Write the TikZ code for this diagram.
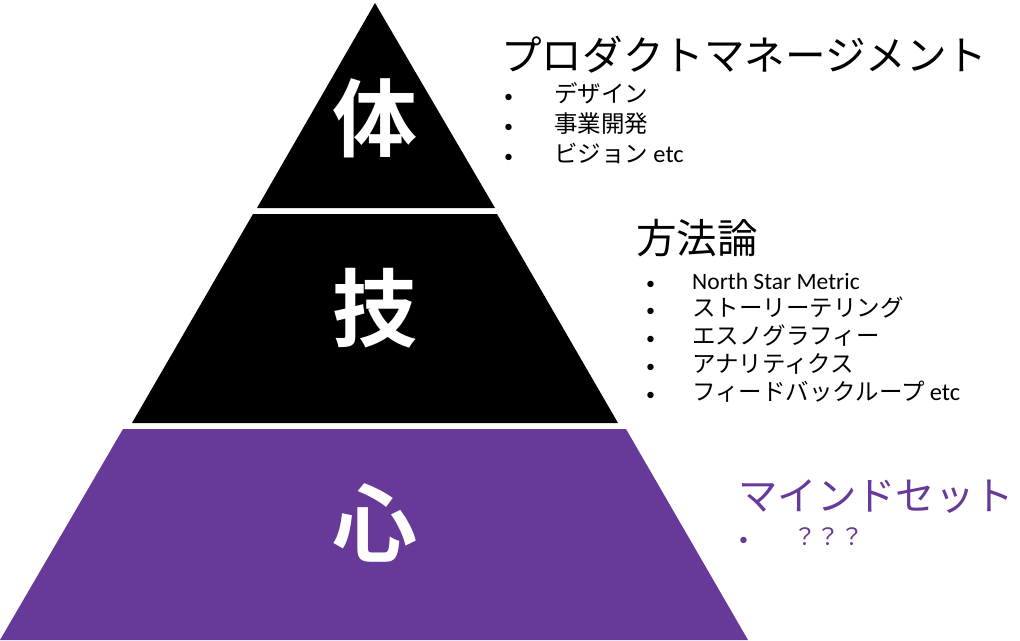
\documentclass[tikz,border=0pt]{standalone}
\usepackage{fontspec}
\setmainfont{Noto Sans CJK JP}[BoldFont={Noto Sans CJK JP Bold}]
\newfontfamily\latinfont{Carlito}
\definecolor{mindpurple}{RGB}{103,57,152}
\newcommand{\itm}[2][51pt]{\makebox[#1][l]{\hspace{1pt}\latinfont\fontsize{18}{18}\selectfont •}#2}

\begin{document}
\begin{tikzpicture}[x=1pt, y=-1pt,
  tier/.style={fill=black},
  kanji/.style={inner sep=0pt, text=white, font=\fontsize{85}{85}\selectfont\bfseries},
  heading/.style={anchor=west, inner sep=0pt, font=\fontsize{40.6}{48}\selectfont},
  itemlist/.style={anchor=west, inner sep=0pt, align=left, font=\fontsize{23.5}{30}\selectfont}
]
\useasboundingbox (0,0) rectangle (1020,640);

% pyramid
\fill[tier] (375,3) -- (495,208) -- (257,208) -- cycle;
\fill[tier] (253,214) -- (497,214) -- (618,423) -- (132,423) -- cycle;
\fill[mindpurple] (123,429) -- (626,429) -- (748,640) -- (0,640) -- cycle;

\node[kanji] (tai) at (375,118) {体};
\node[kanji] (gi) at (375,308) {技};
\node[kanji] (shin) at (375,523) {心};

% product management
\node[heading] (pm) at (501,55) {プロダクトマネージメント};
\node[itemlist] (pmlist) at (503,123.5) {
  \itm{デザイン}\\
  \itm{事業開発}\\
  \itm{ビジョン {\latinfont\fontsize{24.5}{30}\selectfont etc}}
};

% methods
\node[heading] (method) at (636,238) {方法論};
\node[itemlist, font=\fontsize{23.5}{27.8}\selectfont] (methodlist) at (645,337.5) {
  \itm[47pt]{{\latinfont North Star Metric}}\\
  \itm[47pt]{ストーリーテリング}\\
  \itm[47pt]{エスノグラフィー}\\
  \itm[47pt]{アナリティクス}\\
  \itm[47pt]{フィードバックループ {\latinfont\fontsize{24.5}{27.8}\selectfont etc}}
};

% mindset
\node[heading, text=mindpurple, font=\fontsize{39.4}{48}\selectfont] (mind) at (738,497) {マインドセット};
\node[itemlist, text=mindpurple] (mindlist) at (738,537) {\itm[55pt]{？？？}};

\end{tikzpicture}
\end{document}
